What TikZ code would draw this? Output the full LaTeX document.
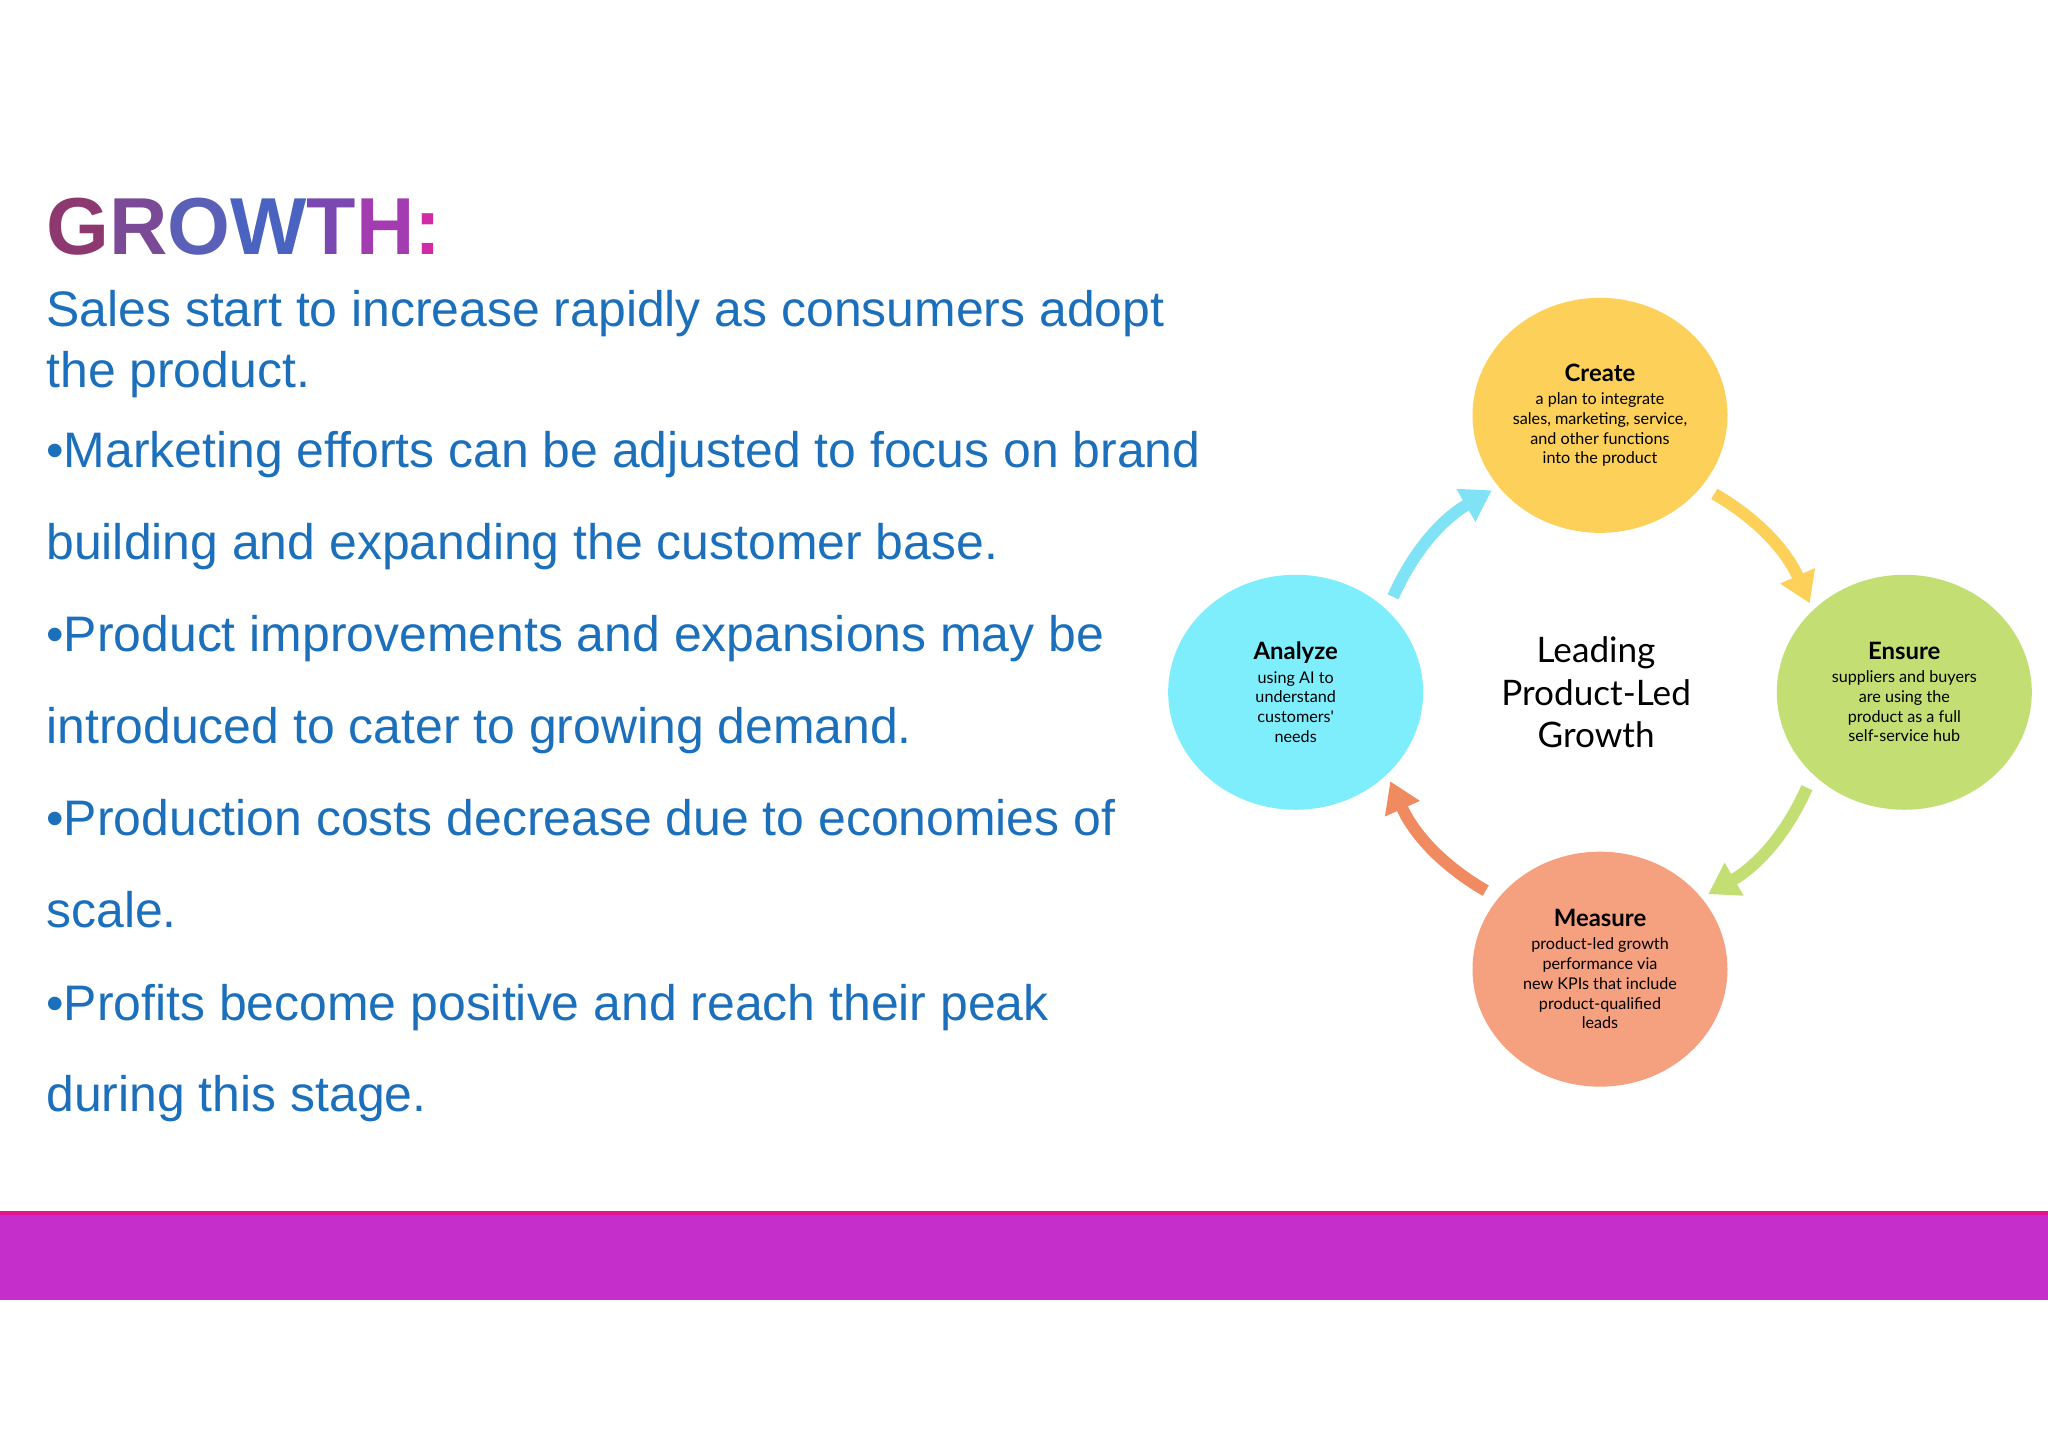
\documentclass[tikz,border=0pt]{standalone}
\usepackage{fontspec}
\setmainfont{Liberation Sans}
\newfontfamily\lato{Lato}
\usetikzlibrary{shapes.geometric,arrows.meta}
\definecolor{txtblue}{HTML}{1C6FBA}
\definecolor{barc}{HTML}{C62ECB}
\definecolor{cyel}{HTML}{FDD05A}
\definecolor{cgrn}{HTML}{C3DE72}
\definecolor{ccyn}{HTML}{7FEEFC}
\definecolor{cora}{HTML}{F5A07E}
\definecolor{acyn}{HTML}{7FE3F5}
\definecolor{aora}{HTML}{F08A60}
\newcommand\cttl[1]{{\lato\bfseries\fontsize{6.8}{8}\selectfont #1}}
\begin{document}
\begin{tikzpicture}[x=0.01306cm,y=-0.01306cm,
  body/.style={anchor=base west,inner sep=0,text=txtblue,font=\fontsize{14.2}{17}\selectfont},
  circ/.style={ellipse,minimum width=2.55cm,minimum height=2.35cm,inner sep=0,align=center,font=\lato\fontsize{4.6}{5.6}\selectfont},
  cyc/.style={line width=0.12cm,-{Triangle[length=0.3cm,width=0.36cm]},shorten <=4pt,shorten >=2pt,bend left=18}]
\useasboundingbox (0,0) rectangle (1568,1109);
\fill[barc] (0,928) rectangle (1568,995);
\draw[color=magenta!80!barc,line width=1pt] (0,928.5) -- (1568,928.5);
\node[anchor=base west,inner sep=0,font=\bfseries\fontsize{23}{26}\selectfont] (title) at (35,195)
 {\textcolor[HTML]{8E3870}{G}\textcolor[HTML]{7A4A96}{R}\textcolor[HTML]{5A5FB8}{O}\textcolor[HTML]{4A62C0}{W}\textcolor[HTML]{7A48B0}{T}\textcolor[HTML]{A33CB0}{H}\textcolor[HTML]{D02CA8}{:}};
\node[body] (l1) at (35,250) {Sales start to increase rapidly as consumers adopt};
\node[body] (l2) at (35,297) {the product.};
\node[body] (l3) at (35,358) {•Marketing efforts can be adjusted to focus on brand};
\node[body] (l4) at (35,428) {building and expanding the customer base.};
\node[body] (l5) at (35,499) {•Product improvements and expansions may be};
\node[body] (l6) at (35,569) {introduced to cater to growing demand.};
\node[body] (l7) at (35,640) {•Production costs decrease due to economies of};
\node[body] (l8) at (35,710) {scale.};
\node[body] (l9) at (35,781) {•Profits become positive and reach their peak};
\node[body] (l10) at (35,851) {during this stage.};
\node[circ,fill=cyel] (cr) at (1225,318) {\cttl{Create}\\[1pt]a plan to integrate\\sales, marketing, service,\\and other functions\\into the product};
\node[circ,fill=cgrn] (en) at (1458,530) {\cttl{Ensure}\\[1pt]suppliers and buyers\\are using the\\product as a full\\self-service hub};
\node[circ,fill=ccyn] (an) at (992,530) {\cttl{Analyze}\\[1pt]using AI to\\understand\\customers'\\needs};
\node[circ,fill=cora] (me) at (1225,742) {\cttl{Measure}\\[1pt]product-led growth\\performance via\\new KPIs that include\\product-qualified\\leads};
\node[align=center,font=\lato\fontsize{10}{12}\selectfont] (ctr) at (1222,530) {Leading\\Product-Led\\Growth};
\draw[cyc,acyn] (an.42) to (cr.215);
\draw[cyc,cyel] (cr.-35) to (en.138);
\draw[cyc,cgrn] (en.-138) to (me.35);
\draw[cyc,aora] (me.145) to (an.-42);
\end{tikzpicture}
\end{document}
